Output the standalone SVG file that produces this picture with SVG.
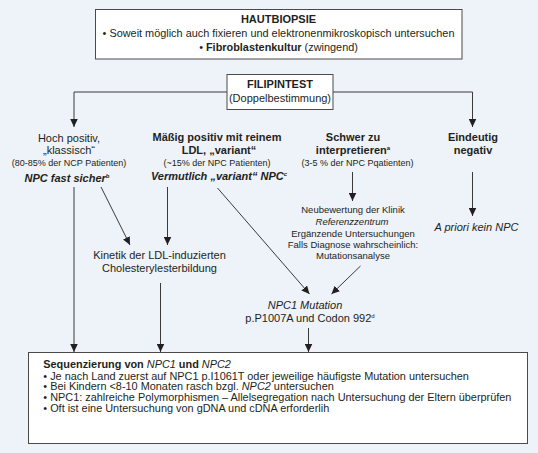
<svg xmlns="http://www.w3.org/2000/svg" width="538" height="453" viewBox="0 0 538 453">
<defs>
<style>
text{font-family:"Liberation Sans",Arial,sans-serif;fill:#231f20;font-size:11px}
.c{text-anchor:middle}
.b{font-weight:bold}
.i{font-style:italic}
.s{font-size:9px}
.m{font-size:9.5px}
.t{font-size:10.9px}
.box{fill:#fff;stroke:#4a4a4a;stroke-width:1}
.ln{fill:none;stroke:#3a3a3a;stroke-width:1}
</style>
<marker id="ah" viewBox="0 0 10 10" refX="10" refY="5" markerWidth="8" markerHeight="8" orient="auto" markerUnits="userSpaceOnUse">
<path d="M0,0.3 L10,5 L0,9.7 z" fill="#231f20"/>
</marker>
</defs>
<rect width="538" height="453" fill="#eef2f9"/>

<g id="connectors">
<path class="ln" d="M74,92 L472.5,92"/>
<path class="ln" d="M74,92 L74,127" marker-end="url(#ah)"/>
<path class="ln" d="M472.5,92 L472.5,127" marker-end="url(#ah)"/>
<path class="ln" d="M101,187 L130,245" marker-end="url(#ah)"/>
<path class="ln" d="M167.5,187 L167.5,245" marker-end="url(#ah)"/>
<path class="ln" d="M74,187 L74,352" marker-end="url(#ah)"/>
<path class="ln" d="M160.5,283 L160.5,352" marker-end="url(#ah)"/>
<path class="ln" d="M217.5,188 L309.5,294" marker-end="url(#ah)"/>
<path class="ln" d="M352.5,172 L352.5,201" marker-end="url(#ah)"/>
<path class="ln" d="M360.5,266 L331.5,294" marker-end="url(#ah)"/>
<path class="ln" d="M308.5,328 L308.5,352" marker-end="url(#ah)"/>
<path class="ln" d="M472.5,172 L472.5,216" marker-end="url(#ah)"/>
</g>

<g id="hautbiopsie">
<rect class="box" x="95.5" y="9.5" width="366.5" height="49.5"/>
<text class="c b" x="278.5" y="23">HAUTBIOPSIE</text>
<text class="c t" x="278.5" y="37">• Soweit möglich auch fixieren und elektronenmikroskopisch untersuchen</text>
<text class="c t" x="278.5" y="51">• <tspan class="b">Fibroblastenkultur</tspan> (zwingend)</text>
</g>

<g id="filipintest">
<rect class="box" x="227" y="74.5" width="106" height="35"/>
<text class="c b" x="280" y="88">FILIPINTEST</text>
<text class="c" font-size="10.5" x="280" y="102">(Doppelbestimmung)</text>
</g>

<g id="hoch-positiv">
<text class="c" x="69" y="141.7">Hoch positiv,</text>
<text class="c" x="69" y="154.3">„klassisch“</text>
<text class="c s" x="69" y="166">(80-85% der NCP Patienten)</text>
<text class="c b i" x="67" y="182">NPC fast sicher<tspan font-size="6" dy="-4">b</tspan></text>
</g>

<g id="maessig-positiv">
<text class="c b" x="217" y="141">Mäßig positiv mit reinem</text>
<text class="c b" x="219" y="153.5">LDL, „variant“</text>
<text class="c s" x="217" y="165.5">(~15% der NPC Patienten)</text>
<text class="c b i" x="219" y="180">Vermutlich „variant“ NPC<tspan font-size="6" dy="-4">c</tspan></text>
</g>

<g id="schwer">
<text class="c b" x="353" y="141">Schwer zu</text>
<text class="c b" x="353" y="153.5">interpretieren<tspan font-size="6" dy="-4">a</tspan></text>
<text class="c s" x="357.5" y="165.5">(3-5 % der NPC Pqatienten)</text>
</g>

<g id="neubewertung">
<text class="c m" x="353" y="213.3">Neubewertung der Klinik</text>
<text class="c m i" x="352" y="225">Referenzzentrum</text>
<text class="c m" x="353" y="236.7">Ergänzende Untersuchungen</text>
<text class="c m" x="353" y="247.7">Falls Diagnose wahrscheinlich:</text>
<text class="c m" x="353" y="259">Mutationsanalyse</text>
</g>

<g id="negativ">
<text class="c b" x="473" y="141">Eindeutig</text>
<text class="c b" x="473" y="153.5">negativ</text>
</g>

<g id="a-priori">
<text class="c i" x="476.5" y="230.7">A priori kein NPC</text>
</g>

<g id="kinetik">
<text class="c" x="159.5" y="259">Kinetik der LDL-induzierten</text>
<text class="c" x="159.5" y="272.3">Cholesterylesterbildung</text>
</g>

<g id="npc1-mutation">
<text class="c i" x="305" y="309.3">NPC1 Mutation</text>
<text class="c" x="310" y="322.3">p.P1007A und Codon 992<tspan font-size="6" dy="-4">d</tspan></text>
</g>

<g id="sequenzierung">
<rect class="box" x="28.5" y="352.5" width="499" height="91"/>
<text class="t" x="43.3" y="367.8"><tspan class="b">Sequenzierung von </tspan><tspan class="i">NPC1</tspan><tspan class="b"> und </tspan><tspan class="i">NPC2</tspan></text>
<text class="t" x="43.3" y="379.5">• Je nach Land zuerst auf NPC1 p.I1061T oder jeweilige häufigste Mutation untersuchen</text>
<text class="t" x="43.3" y="390.2">• Bei Kindern &lt;8-10 Monaten rasch bzgl. <tspan class="i">NPC2</tspan> untersuchen</text>
<text class="t" x="43.3" y="400.8">• NPC1: zahlreiche Polymorphismen – Allelsegregation nach Untersuchung der Eltern überprüfen</text>
<text class="t" x="43.3" y="411.5">• Oft ist eine Untersuchung von gDNA und cDNA erforderlih</text>
</g>
</svg>
